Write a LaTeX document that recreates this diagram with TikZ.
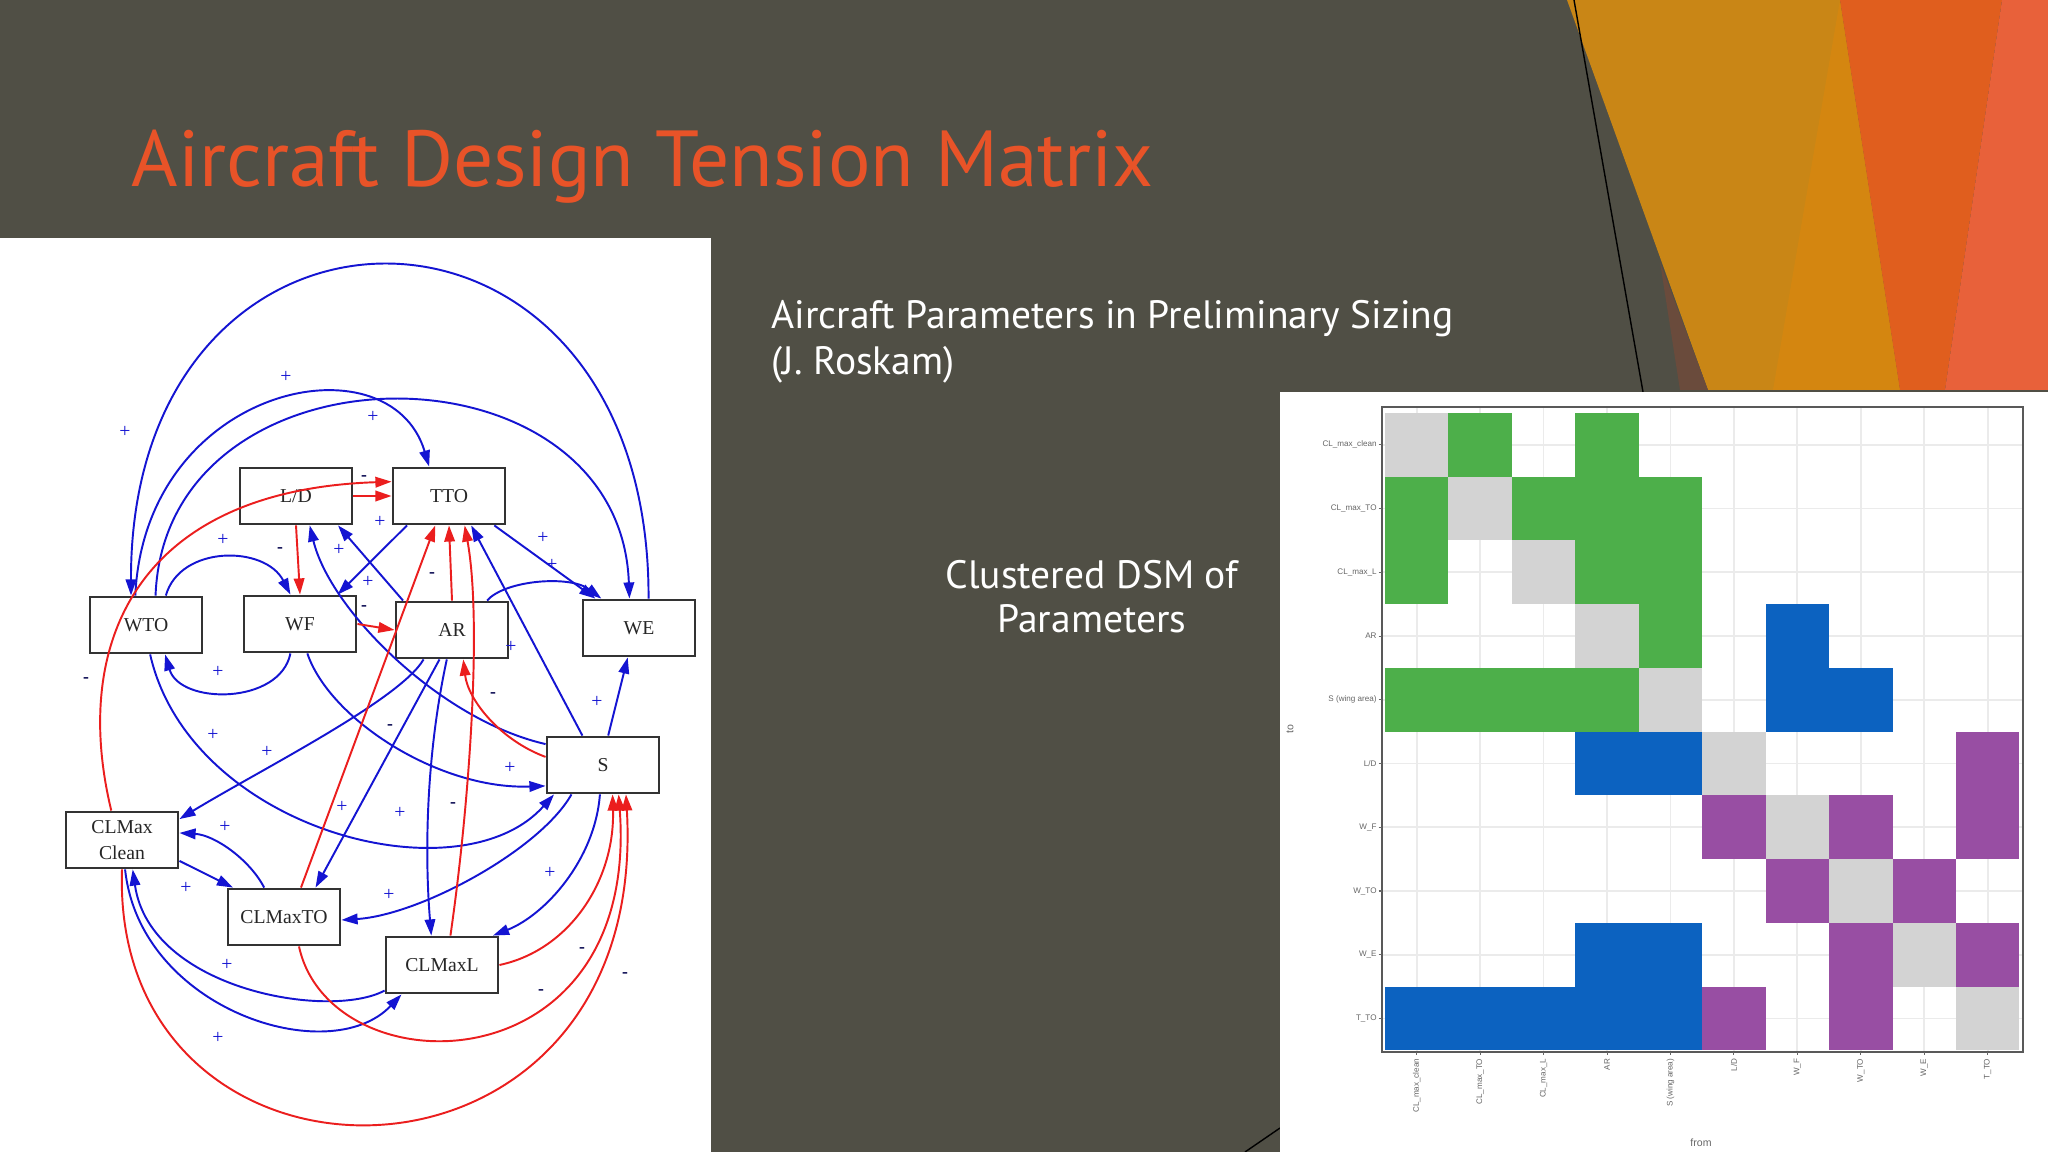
\documentclass[tikz,border=0pt]{standalone}
\usepackage{fontspec}
\setmainfont{PT Sans}
\newfontfamily\graphfont{Liberation Serif}
\newfontfamily\plotfont{Liberation Sans}
\usetikzlibrary{arrows.meta}

\definecolor{slidebg}{RGB}{80,79,69}
\definecolor{titleorange}{RGB}{232,83,40}
\definecolor{bandgold}{RGB}{201,134,22}
\definecolor{bandgoldlight}{RGB}{212,134,16}
\definecolor{bandorange}{RGB}{224,94,30}
\definecolor{bandcoral}{RGB}{232,97,58}
\definecolor{bandbrown}{RGB}{106,75,60}
\definecolor{dsmgreen}{RGB}{77,175,74}
\definecolor{dsmblue}{RGB}{12,98,192}
\definecolor{dsmpurple}{RGB}{152,78,163}
\definecolor{dsmgray}{RGB}{211,211,211}
\definecolor{edgeblue}{RGB}{20,20,210}
\definecolor{edgered}{RGB}{235,30,30}

\begin{document}
\begin{tikzpicture}[x=0.01cm,y=-0.01cm,
  param/.style={draw=black!80,line width=0.8pt,minimum width=1.12cm,
    minimum height=0.56cm,inner sep=0pt,align=center,text=black!85,
    font=\graphfont\fontsize{5.6}{7.6}\selectfont},
  blueedge/.style={draw=edgeblue,line width=0.55pt,
    -{Triangle[length=4.6pt,width=3pt]}},
  rededge/.style={draw=edgered,line width=0.55pt,
    -{Triangle[length=4.6pt,width=3pt]}},
  plussign/.style={text=edgeblue,inner sep=0pt,
    font=\graphfont\fontsize{5.6}{5.6}\selectfont},
  minussign/.style={text=black!70!blue,inner sep=0pt,
    font=\graphfont\bfseries\fontsize{5}{5}\selectfont},
  plotlabel/.style={text=black!60,inner sep=0.4pt,
    font=\plotfont\fontsize{2.3}{2.5}\selectfont}]
\useasboundingbox (0,0) rectangle (2048,1152);

% slide background
\fill[slidebg] (0,0) rectangle (2048,1152);

% bands top right
\fill[bandgold] (1567,0) -- (1840,0) -- (1900,390) -- (1708,390) -- cycle;
\fill[bandgoldlight] (1840,0) -- (1900,390) -- (1773,390) -- cycle;
\fill[bandorange] (1840,0) -- (2002,0) -- (1945,390) -- (1900,390) -- cycle;
\fill[bandcoral] (2002,0) -- (2048,0) -- (2048,390) -- (1945,390) -- cycle;
\fill[bandbrown] (1660,262) -- (1708,390) -- (1680,390) -- cycle;
\draw[black,line width=0.4pt] (1574,0) -- (1643,392);
\draw[black,line width=0.4pt] (1245,1152) -- (1280,1128);

% title and texts
\node[anchor=base west,inner sep=0pt,text=titleorange,
  font=\fontsize{22.6}{26}\selectfont] (title) at (131,187)
  {Aircraft Design Tension Matrix};
\node[anchor=base west,inner sep=0pt,text=white,
  font=\fontsize{11.25}{13}\selectfont] (source) at (771,329)
  {Aircraft Parameters in Preliminary Sizing};
\node[anchor=base west,inner sep=0pt,text=white,
  font=\fontsize{11.25}{13}\selectfont] (author) at (771,375)
  {(J. Roskam)};
\node[anchor=base,inner sep=0pt,text=white,
  font=\fontsize{11.25}{13}\selectfont] (dsmcap) at (1092,588)
  {Clustered DSM of};
\node[anchor=base,inner sep=0pt,text=white,
  font=\fontsize{11.25}{13}\selectfont] (dsmcap2) at (1092,633)
  {Parameters};

% white panels
\fill[white] (0,238) rectangle (711,1152);
\fill[white] (1280,392) rectangle (2048,1152);

% parameter boxes
\node[param] (LD)   at (296,496) {L/D};
\node[param] (TTO)  at (449,496) {TTO};
\node[param] (WTO)  at (146,625) {WTO};
\node[param] (WF)   at (300,624) {WF};
\node[param] (AR)   at (452,630) {AR};
\node[param] (WE)   at (639,628) {WE};
\node[param] (S)    at (603,765) {S};
\node[param] (CLC)  at (122,840) {CLMax\\Clean};
\node[param] (CLTO) at (284,917) {CLMaxTO};
\node[param] (CLL)  at (442,965) {CLMaxL};

% blue links
\draw[blueedge] (WE.72) .. controls (650,155) and (130,155) .. (WTO.117);
\draw[blueedge] (WTO.110) .. controls (145,385) and (390,335) .. (TTO.124);
\draw[blueedge] (WTO.72) .. controls (165,335) and (620,335) .. (WE.108);
\draw[blueedge] (WTO.56) .. controls (180,545) and (265,545) .. (WF.108);
\draw[blueedge] (WF.252) .. controls (280,705) and (180,705) .. (WTO.303);
\draw[blueedge] (TTO.215) -- (WF.38);
\draw[blueedge] (TTO.327) -- (WE.146);
\draw[blueedge] (AR.40) .. controls (505,580) and (570,575) .. (WE.142);
\draw[blueedge] (S.80) -- (WE.249);
\draw[blueedge] (S.125) -- (TTO.307);
\draw[blueedge] (S.160) .. controls (440,720) and (330,610) .. (LD.295);
\draw[blueedge] (AR.149) -- (LD.325);
\draw[blueedge] (AR.226) .. controls (400,700) and (260,770) .. (CLC.20);
\draw[blueedge] (CLTO.124) .. controls (250,860) and (215,835) .. (CLC.7);
\draw[blueedge] (CLC.340) -- (CLTO.150);
\draw[blueedge] (AR.247) -- (CLTO.43);
\draw[blueedge] (AR.260) .. controls (425,760) and (425,860) .. (CLL.110);
\draw[blueedge] (S.223) .. controls (540,850) and (420,915) .. (CLTO.357);
\draw[blueedge] (S.264) .. controls (595,860) and (545,915) .. (CLL.30);
\draw[blueedge] (WTO.278) .. controls (190,830) and (460,900) .. (S.211);
\draw[blueedge] (WF.284) .. controls (330,720) and (440,790) .. (S.200);
\draw[blueedge] (CLC.276) .. controls (140,1010) and (330,1070) .. (CLL.216);
\draw[blueedge] (CLL.204) .. controls (330,1020) and (150,990) .. (CLC.290);

% red links
\draw[rededge] (CLC.110) .. controls (70,640) and (140,490) .. (TTO.166);
\draw[rededge] (LD.east) -- (TTO.west);
\draw[rededge] (LD.south) -- (WF.north);
\draw[rededge] (WF.east) -- (AR.west);
\draw[rededge] (CLTO.60) -- (TTO.245);
\draw[rededge] (AR.north) -- (TTO.south);
\draw[rededge] (CLL.74) .. controls (470,800) and (482,620) .. (TTO.298);
\draw[rededge] (S.172) .. controls (500,740) and (468,700) .. (AR.291);
\draw[rededge] (CLL.east) .. controls (570,950) and (615,880) .. (S.288);
\draw[rededge] (CLTO.297) .. controls (330,1090) and (640,1090) .. (S.298);
\draw[rededge] (CLC.270) .. controls (110,1220) and (650,1220) .. (S.308);

% signs on the links
\foreach \p [count=\i] in {(286,377),(125,432),(373,417),(223,540),(339,550),
    (380,522),(368,582),(543,538),(552,565),(511,647),(218,672),(213,735),
    (267,752),(342,807),(225,827),(597,702),(510,768),(400,813),(186,888),
    (550,873),(389,895),(227,965),(218,1038)}
  \node[plussign] (plus\i) at \p {+};
\foreach \p [count=\i] in {(280,550),(364,478),(432,575),(364,608),(86,680),
    (493,695),(390,727),(453,805),(582,950),(625,975),(541,992)}
  \node[minussign] (minus\i) at \p {-};

% clustered DSM
\begin{scope}[shift={(1385,413)},x=0.634cm,y=-0.637cm]
  \foreach \i in {0,...,9} {
    \draw[black!8,line width=0.5pt] (\i+0.5,-0.1) -- (\i+0.5,10.03);
    \draw[black!8,line width=0.5pt] (-0.05,\i+0.5) -- (10.05,\i+0.5);
  }
  % green block
  \fill[dsmgreen] (1,0) rectangle (2,1);
  \fill[dsmgreen] (3,0) rectangle (4,3);
  \fill[dsmgreen] (4,1) rectangle (5,4);
  \fill[dsmgreen] (0,1) rectangle (1,3);
  \fill[dsmgreen] (2,1) rectangle (3,2);
  \fill[dsmgreen] (0,4) rectangle (4,5);
  % blue block
  \fill[dsmblue] (6,3) rectangle (7,5);
  \fill[dsmblue] (7,4) rectangle (8,5);
  \fill[dsmblue] (3,5) rectangle (5,6);
  \fill[dsmblue] (3,8) rectangle (5,10);
  \fill[dsmblue] (0,9) rectangle (3,10);
  % purple block
  \fill[dsmpurple] (9,5) rectangle (10,7);
  \fill[dsmpurple] (5,6) rectangle (6,7);
  \fill[dsmpurple] (7,6) rectangle (8,10);
  \fill[dsmpurple] (6,7) rectangle (9,8);
  \fill[dsmpurple] (9,8) rectangle (10,9);
  \fill[dsmpurple] (5,9) rectangle (6,10);
  % diagonal
  \foreach \i in {0,...,9}
    \fill[dsmgray] (\i,\i) rectangle (\i+1,\i+1);
  % frame
  \draw[black!65,line width=0.6pt] (-0.05,-0.1) rectangle (10.05,10.03);
  \foreach \lab [count=\i from 0] in {CL\_max\_clean,CL\_max\_TO,CL\_max\_L,AR,
      S (wing area),L/D,W\_F,W\_TO,W\_E,T\_TO} {
    \draw[black!60,line width=0.3pt] (-0.1,\i+0.5) -- (-0.05,\i+0.5);
    \draw[black!60,line width=0.3pt] (\i+0.5,10.03) -- (\i+0.5,10.08);
    \node[plotlabel,anchor=east] (row\i) at (-0.1,\i+0.5) {\lab};
    \node[plotlabel,rotate=90,anchor=east] (col\i) at (\i+0.5,10.1) {\lab};
  }
\end{scope}
\node[plotlabel,rotate=90,font=\plotfont\fontsize{3}{3}\selectfont] (tolab) at (1290,729) {to};
\node[plotlabel,font=\plotfont\fontsize{3}{3}\selectfont] (fromlab) at (1701,1143) {from};
\end{tikzpicture}
\end{document}
